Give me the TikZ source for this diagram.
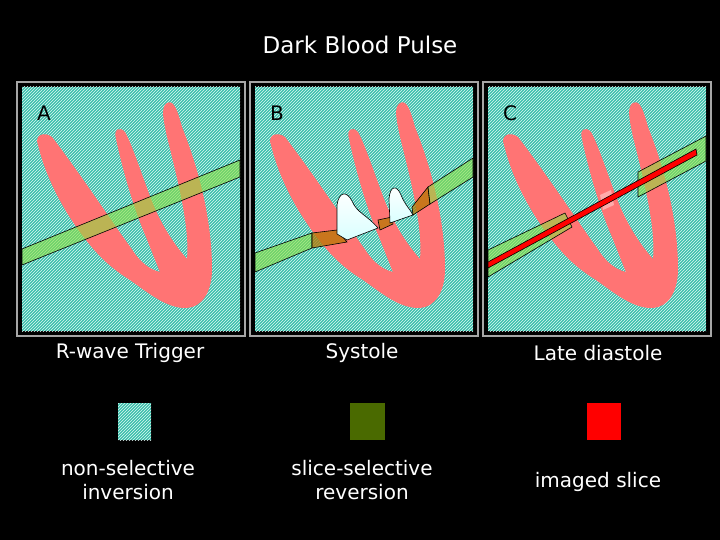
\documentclass[tikz,border=0pt]{standalone}
\usepackage{fontspec}
\setmainfont{DejaVu Sans}
\usetikzlibrary{patterns}
\definecolor{teal1}{HTML}{3CC0AC}
\definecolor{heartc}{HTML}{FF7474}
\definecolor{bandc}{HTML}{8EE040}
\definecolor{olivec}{HTML}{4A6A00}
\tikzset{
 bg/.style={fill=teal1,postaction={pattern=north east lines,pattern color=white!85!teal1}},
 frame/.style={draw=gray!70,line width=1.2,fill=black},
 heart/.style={fill=heartc},
 band/.style={draw=black,line width=0.6,fill=bandc,fill opacity=0.6},
 over/.style={draw=black,line width=0.6,fill=orange!60!olivec,fill opacity=0.75},
 blob/.style={draw=black,line width=0.6,top color=white,bottom color=cyan!15!white},
 lab/.style={font=\fontsize{20}{24}\selectfont,text=black},
 txt/.style={font=\fontsize{20}{24}\selectfont,text=white,align=center}
}
\begin{document}
\begin{tikzpicture}[x=1pt,y=-1pt]
\fill[black] (0,0) rectangle (720,540);
\useasboundingbox (0,0) rectangle (720,540);
\node[txt,font=\fontsize{23}{27}\selectfont] (title) at (360,45) {Dark Blood Pulse};
% panels
\foreach \px/\nm/\L in {22/A/A,255/B/B,488/C/C}{
 \draw[frame] (\px-5,82) rectangle (\px+223,336);
 \begin{scope}[shift={(\px,87)}]
  \path[bg] (0,0) rectangle (218,244);
  \path[heart] (30,50) .. controls (22,44) and (12,48) .. (16,58)
    .. controls (25,95) and (45,130) .. (68,158)
    .. controls (82,175) and (95,185) .. (108,193)
    .. controls (125,205) and (145,222) .. (165,221)
    .. controls (180,220) and (190,205) .. (190,182)
    .. controls (190,140) and (180,90) .. (160,40)
    .. controls (156,25) and (152,12) .. (145,16)
    .. controls (138,20) and (142,35) .. (145,50)
    .. controls (155,90) and (168,140) .. (165,172)
    .. controls (150,155) and (138,135) .. (129,112)
    .. controls (119,85) and (109,55) .. (103,45)
    .. controls (98,39) and (91,42) .. (94,52)
    .. controls (101,85) and (113,125) .. (124,150)
    .. controls (130,165) and (135,178) .. (138,185)
    .. controls (125,182) and (116,172) .. (109,161)
    .. controls (90,135) and (57,85) .. (30,50) -- cycle;
  \node[lab] (lab\nm) at (22,26) {\L};
 \end{scope}
}
% A band
\begin{scope}[shift={(22,87)}]
 \path[band] (0,162) -- (218,73) -- (218,90) -- (0,178) -- cycle;
\end{scope}
% B bands
\begin{scope}[shift={(255,87)}]
 \path[band] (0,166) -- (57,146) -- (57,161) -- (0,185) -- cycle;
 \path[over] (57,146) -- (82,143) -- (92,155) -- (57,161) -- cycle;
 \path[blob] (82,147) -- (82,118) .. controls (84,104) and (92,104) .. (97,114) .. controls (102,126) and (112,128) .. (123,141) -- (92,153) -- cycle;
 \path[over] (123,133) -- (137,130) -- (138,137) -- (125,143) -- cycle;
 \path[blob] (135,136) -- (134,112) .. controls (135,98) and (142,98) .. (146,108) .. controls (150,118) and (155,122) .. (158,128) -- cycle;
 \path[over] (157,120) -- (173,100) -- (175,117) -- (158,128) -- cycle;
 \path[band] (173,100) -- (218,71) -- (218,90) -- (175,117) -- cycle;
\end{scope}
% C bands
\begin{scope}[shift={(488,87)}]
 \path[band] (0,163) -- (77,126) -- (84,140) -- (0,190) -- cycle;
 \path[band] (150,85) -- (218,49) -- (218,74) -- (150,110) -- cycle;
 \path[fill=white,fill opacity=0.4] (112,108) -- (123,103) -- (126,118) -- (115,123) -- cycle;
 \path[draw=black,line width=0.6,fill=red] (0,175) -- (208,62) -- (209,68) -- (0,181) -- cycle;
\end{scope}
% captions
\node[txt] (capA) at (130,353) {R-wave Trigger};
\node[txt] (capB) at (362,353) {Systole};
\node[txt] (capC) at (598,353) {Late diastole};
% legend
\path[bg] (118,403) rectangle (151,440);
\fill[olivec] (350,403) rectangle (385,440);
\fill[red] (587,403) rectangle (621,440);
\node[txt] (l1) at (128,480) {non-selective\\inversion};
\node[txt] (l2) at (362,480) {slice-selective\\reversion};
\node[txt] (l3) at (598,482) {imaged slice};
\end{tikzpicture}
\end{document}
